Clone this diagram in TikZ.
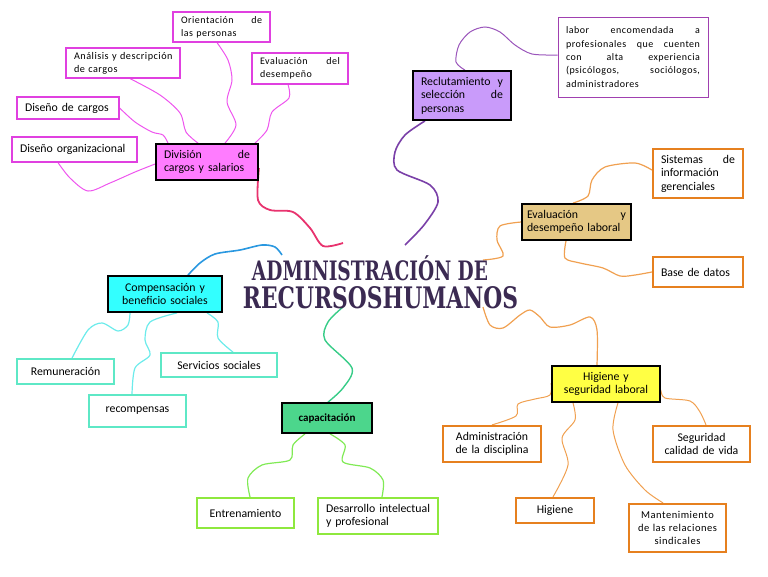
\documentclass[tikz,border=0pt]{standalone}
\usepackage{fontspec}
\usepackage{graphicx}
\setmainfont{Carlito}
\newfontfamily\spaced[LetterSpace=5]{Carlito}
\newfontfamily\titlefont{DejaVu Serif}
\usetikzlibrary{backgrounds}
\hyphenpenalty=10000
\exhyphenpenalty=10000
\definecolor{divfill}{HTML}{FF7CFF}
\definecolor{recfill}{HTML}{C99BFA}
\definecolor{evfill}{HTML}{E5C885}
\definecolor{higfill}{HTML}{FFFF44}
\definecolor{compfill}{HTML}{33FFFF}
\definecolor{capfill}{HTML}{4CD68C}
\definecolor{bMag}{HTML}{E040E0}
\definecolor{bPur}{HTML}{A040B0}
\definecolor{bOra}{HTML}{E6801F}
\definecolor{bTeal}{HTML}{5EE8C6}
\definecolor{bLime}{HTML}{8EE83E}
\definecolor{lMag}{HTML}{EE55EE}
\definecolor{lRed}{HTML}{E8336E}
\definecolor{lPur}{HTML}{7A40A8}
\definecolor{lPur2}{HTML}{9A55BB}
\definecolor{lOra}{HTML}{F0A050}
\definecolor{lBlue}{HTML}{2A98E0}
\definecolor{lCyan}{HTML}{6CEBEB}
\definecolor{lGreen}{HTML}{38CC88}
\definecolor{lLime}{HTML}{80EA55}
\definecolor{ttl}{HTML}{3B2A52}
\newcommand{\ttlA}{\resizebox{236pt}{19.5pt}{\titlefont\bfseries\smash{ADMINISTRACIÓN DE}\vphantom{A}}}
\newcommand{\ttlB}{\resizebox{275pt}{22pt}{\titlefont\bfseries RECURSOSHUMANOS}}
\begin{document}
\begin{tikzpicture}[x=1pt,y=-1pt,
  base/.style={rectangle, inner xsep=8pt, inner ysep=0pt, fill=white,
    font=\fontsize{11.8}{13.5}\selectfont},
  sp/.style={font=\spaced\fontsize{#1}{13.3}\selectfont},
  sz/.style n args={3}{minimum width=#1pt, minimum height=#2pt, text width=#3pt},
  hub/.style={base, draw=black, line width=1.8pt},
  lfM/.style={base, draw=bMag, line width=1.2pt},
  lfP/.style={base, draw=bPur, line width=1pt},
  lfO/.style={base, draw=bOra, line width=2.2pt},
  lfT/.style={base, draw=bTeal, line width=1.8pt},
  lfL/.style={base, draw=bLime, line width=2.2pt},
  cn/.style={line cap=round, line join=round},
  ttlnode/.style={inner sep=0, anchor=south, text=ttl},
]
\useasboundingbox (0,0) rectangle (768,576);

% ---- title ----
\node[ttlnode] (t1) at (370,280.5) {\ttlA};
\node[ttlnode] (t2) at (380.5,309) {\ttlB};

\coordinate (tRed) at (343,243);
\coordinate (tPur) at (405,245);
\coordinate (tBlue) at (282,255);
\coordinate (tEv) at (483,260);
\coordinate (tHig) at (483,307);
\coordinate (tCap) at (343,307);

% ---- División de cargos y salarios ----
\node[hub, fill=divfill, sz={102}{36}{86}, align=left] (div) at (207,162) {División\hfill de\\cargos y salarios};
\node[lfM, sp=10, sz={97}{30}{81}, align=left] (ori) at (221.5,27) {Orientación\hfill de\\las personas};
\node[lfM, sp=10.2, sz={114}{30}{98}, align=left] (ana) at (123,63) {Análisis y descripción\\de cargos};
\node[lfM, sp=10, sz={96}{31}{80}, align=left] (evd) at (300,68.5) {Evaluación\hfill del\\desempeño};
\node[lfM, sz={102}{22}{86}, align=left] (dca) at (68,108) {Diseño de cargos};
\node[lfM, sz={125}{25}{109}, align=left] (dorg) at (74.5,149.5) {Diseño organizacional};

% ---- Reclutamiento ----
\node[hub, fill=recfill, sz={98}{49}{82}, align=left] (rec) at (462,95.5) {Reclutamiento\hfill y\\selección\hfill de\\personas};
\node[lfP, sp=10, sz={150}{80}{134}, align=left] (lab) at (633,57) {labor\hfill encomendada\hfill a\\profesionales\hfill que\hfill cuenten\\con\hfill alta\hfill experiencia\\(psicólogos,\hfill sociólogos,\\administradores};

% ---- Evaluación ----
\node[hub, fill=evfill, inner xsep=5pt, sz={109}{36}{99}, align=left] (ev) at (576.5,222) {Evaluación\hfill y\\desempeño laboral};
\node[lfO, sz={90}{49}{74}, align=left] (sis) at (698,173.5) {Sistemas\hfill de\\información\\gerenciales};
\node[lfO, sz={90}{30}{74}, align=left] (bd) at (698,272) {Base de datos};

% ---- Higiene ----
\node[hub, fill=higfill, sz={108}{36}{92}, align=center] (hig) at (606,384) {Higiene y\\seguridad laboral};
\node[lfO, sz={98}{36}{82}, align=center] (adm) at (492,444) {Administración\\de la disciplina};
\node[lfO, sz={97}{36}{81}, align=center] (seg) at (701.5,444) {Seguridad\\calidad de vida};
\node[lfO, sz={78}{25}{62}, align=center] (hgl) at (555,510.5) {Higiene};
\node[lfO, sp=10.5, sz={97}{48}{81}, align=center] (man) at (677.5,528) {Mantenimiento\\de las relaciones\\sindicales};

% ---- Compensación ----
\node[hub, fill=compfill, sz={114}{36}{98}, align=center] (comp) at (165,294) {Compensación y\\beneficio sociales};
\node[lfT, sz={97}{25}{81}, align=center] (rem) at (65.5,371.5) {Remuneración};
\node[lfT, sz={116}{24}{100}, align=center] (ser) at (219,365) {Servicios sociales};
\node[lfT, sz={97}{32}{81}, align=center] (rcp) at (137.5,411) {recompensas};

% ---- Capacitación ----
\node[hub, fill=capfill, sz={90}{30}{74}, align=center, font=\bfseries\fontsize{11}{13}\selectfont] (cap) at (327,418) {capacitación};
\node[lfL, sz={97}{30}{81}, align=center] (ent) at (245.5,513) {Entrenamiento};
\node[lfL, sz={120}{36}{104}, align=left] (des) at (378,516) {Desarrollo\hfill intelectual\\y profesional};

% ---- connectors ----
\begin{scope}[on background layer, cn]
\draw[lMag, line width=1pt] plot[smooth] coordinates {([xshift=-16.5pt]dorg.south) (70,178) (88,191) (110,183) (135,172) ([yshift=-2pt]div.west)};
\draw[lMag, line width=1pt] plot[smooth] coordinates {(dca.east) (135,122) (152,132) (163,135) ([xshift=-39pt]div.north)};
\draw[lMag, line width=1pt] plot[smooth] coordinates {([xshift=7pt]ana.south) (160,95) (180,113) (186,132) ([xshift=-9pt]div.north)};
\draw[lMag, line width=1pt] plot[smooth] coordinates {([xshift=-4.5pt]ori.south) (228,60) (232,80) (227,102) (236,125) ([xshift=18pt]div.north)};
\draw[lMag, line width=1pt] plot[smooth] coordinates {([xshift=-12pt]evd.south) (289,98) (272,112) (267,130) ([xshift=48pt]div.north)};
\draw[lRed, line width=1.8pt] plot[smooth] coordinates {([yshift=-6pt]div.east) (258,200) (270,210) (293,212) (310,228) (323,246) (tRed)};

\draw[lPur2, line width=1pt] plot[smooth] coordinates {([xshift=3pt]rec.north) (456,62) (459,45) (470,32) (485,27) (500,32) (515,45) (532,54) ([yshift=2pt]lab.west)};
\draw[lPur, line width=1.6pt] plot[smooth] coordinates {([xshift=-37pt]rec.south) (405,135) (395,152) (397,170) (430,185) (438,202) (424,225) (tPur)};

\draw[lOra, line width=1.2pt] plot[smooth] coordinates {([xshift=-3.5pt]ev.north) (588,196) (592,180) (605,167) (635,163) ([yshift=3.5pt]sis.west)};
\draw[lOra, line width=1.2pt] plot[smooth] coordinates {(ev.west) (500,226) (497,240) (503,256) (tEv)};
\draw[lOra, line width=1.2pt] plot[smooth] coordinates {([xshift=-10.5pt]ev.south) (565,258) (580,263) (603,268) (620,276) (635,275) (bd.west)};
\draw[lOra, line width=1.2pt] plot[smooth] coordinates {(tHig) (490,325) (503,328) (520,315) (530,310) (540,317) (550,327) (570,325) (590,317) (597,330) ([xshift=-9pt]hig.north)};
\draw[lOra, line width=1pt] plot[smooth] coordinates {([yshift=1pt]hig.west) (550,395) (535,399) (518,404) (516,416) (adm.north)};
\draw[lOra, line width=1pt] plot[smooth] coordinates {([xshift=-33pt]hig.south) (575,420) (562,438) (568,465) ([xshift=-2pt]hgl.north)};
\draw[lOra, line width=1pt] plot[smooth] coordinates {([xshift=12pt]hig.south) (613,430) (625,465) (645,490) ([xshift=-14.5pt]man.north)};
\draw[lOra, line width=1pt] plot[smooth] coordinates {([yshift=-6pt]hig.east) (665,398) (690,401) (700,412) ([xshift=4.5pt]seg.north)};

\draw[lBlue, line width=1.6pt] plot[smooth] coordinates {([xshift=23pt]comp.north) (200,263) (215,254) (240,250) (262,245) (275,247) (tBlue)};
\draw[lCyan, line width=1.2pt] plot[smooth] coordinates {([xshift=-35pt]comp.south) (128,325) (118,331) (102,323) (88,330) ([xshift=6.5pt]rem.north)};
\draw[lCyan, line width=1.2pt] plot[smooth] coordinates {([xshift=12pt]comp.south) (150,322) (145,340) (150,355) (135,368) ([xshift=-5.5pt]rcp.north)};
\draw[lCyan, line width=1.2pt] plot[smooth] coordinates {([xshift=42pt]comp.south) (218,322) (218,338) ([xshift=14pt]ser.north)};

\draw[lGreen, line width=1.4pt] plot[smooth] coordinates {(tCap) (328,322) (325,340) (352,368) (343,388) ([xshift=1pt]cap.north)};
\draw[lLime, line width=1.2pt] plot[smooth] coordinates {([xshift=-22pt]cap.south) (293,445) (290,460) (262,465) (248,478) ([xshift=4.5pt]ent.north)};
\draw[lLime, line width=1.2pt] plot[smooth] coordinates {([xshift=3pt]cap.south) (345,445) (343,462) (370,468) (383,480) ([xshift=4pt]des.north)};
\end{scope}
\end{tikzpicture}
\end{document}
